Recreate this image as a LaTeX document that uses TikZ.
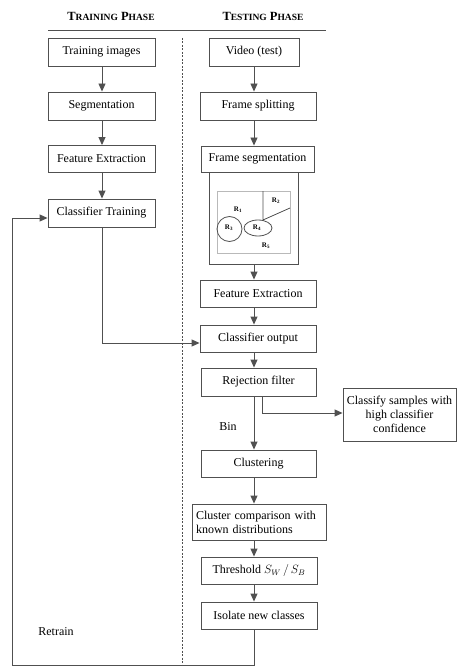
\documentclass[tikz,border=0pt]{standalone}
\usepackage{fontspec}
\setmainfont{Liberation Serif}
\usetikzlibrary{arrows.meta,calc}
\definecolor{ln}{HTML}{505050}
\tikzset{
  box/.style={draw=ln, line width=0.9pt, inner sep=0pt, minimum height=28pt,
    font=\fontsize{12}{14}\selectfont, text=black},
  arr/.style={draw=ln, line width=0.9pt, -{Triangle[length=8pt,width=7pt]}},
  conn/.style={draw=ln, line width=0.9pt},
  lbl/.style={font=\fontsize{12}{14}\selectfont, inner sep=0pt},
  rlbl/.style={font=\fontsize{7}{8}\selectfont\bfseries, inner sep=0pt},
  hdr/.style={font=\fontsize{12.5}{14}\selectfont\bfseries, inner sep=0pt}
}
\newcommand{\smc}[1]{{\fontsize{9.5}{10}\selectfont #1}}
\begin{document}
\begin{tikzpicture}[x=1pt,y=-1pt]
\useasboundingbox (0,0) rectangle (474,671);
% columns
\coordinate (lcol) at (102,0);
\coordinate (rcol) at (254,0);
% headers
\node[hdr] (h1) at (111,16) {T\smc{RAINING} P\smc{HASE}};
\node[hdr] (h2) at (263,16) {T\smc{ESTING} P\smc{HASE}};
\coordinate (hl1) at (48,30);
\coordinate (hl2) at (326,30);
\draw[conn] (hl1) -- (hl2);
\coordinate (d1) at (182,38);
\coordinate (d2) at (182,666);
\draw[ln, line width=0.8pt, dash pattern=on 2pt off 1.5pt] (d1) -- (d2);
% training column
\node[box, minimum width=107pt] (ti) at (101.5,52) {Training images};
\node[box, minimum width=107pt] (seg) at (101.5,106) {Segmentation};
\node[box, minimum width=107pt, minimum height=27pt] (fel) at (101.5,159) {Feature Extraction};
\node[box, minimum width=107pt] (ct) at (101.5,213) {Classifier Training};
% testing column
\node[box, minimum width=90pt] (vid) at (254,52) {Video (test)};
\node[box, minimum width=116pt] (fs) at (258,106) {Frame splitting};
\node[box, minimum width=113pt, minimum height=26pt] (fseg) at (257.5,159) {Frame segmentation};
\node[draw=ln, line width=0.9pt, minimum width=89pt, minimum height=92pt, inner sep=0pt] (reg) at (253.5,218) {};
\node[box, minimum width=116pt, minimum height=27pt] (fer) at (258,293.5) {Feature Extraction};
\node[box, minimum width=116pt, minimum height=27pt] (co) at (258,338.5) {Classifier output};
\node[box, minimum width=115pt] (rf) at (258.5,382) {Rejection filter};
\node[box, minimum width=113pt, minimum height=53pt, align=center] (cl) at (399.5,414.5) {Classify samples with\\high classifier\\confidence};
\node[box, minimum width=115pt, minimum height=27pt] (clu) at (258.5,463.5) {Clustering};
\node[box, minimum width=134pt, minimum height=36pt, text width=126pt, align=left] (cc) at (259,522) {Cluster comparison with\\known distributions};
\node[box, minimum width=116pt, minimum height=27pt] (th) at (259,570.5) {Threshold $S_W\,/\,S_B$};
\node[box, minimum width=116pt, minimum height=27pt] (iso) at (259,615.5) {Isolate new classes};
% region sketch
\draw[gray!55, line width=0.8pt] (217,191) rectangle (290,253);
\coordinate (rl1) at (263,191);
\coordinate (rl2) at (263,220);
\coordinate (rl3) at (290,208);
\draw[ln, line width=0.8pt] (rl1) -- (rl2) -- (rl3);
\draw[ln, line width=0.8pt] (229.5,229) circle (12.5pt);
\draw[ln, line width=0.8pt] (258,228) ellipse (14pt and 8pt);
\node[rlbl] (r1) at (238,210) {R\textsubscript{1}};
\node[rlbl] (r2) at (276,201) {R\textsubscript{2}};
\node[rlbl] (r3) at (229,228) {R\textsubscript{3}};
\node[rlbl] (r4) at (257,228) {R\textsubscript{4}};
\node[rlbl] (r5) at (266,246) {R\textsubscript{5}};
% left arrows
\draw[arr] (lcol |- ti.south) -- (lcol |- seg.north);
\draw[arr] (lcol |- seg.south) -- (lcol |- fel.north);
\draw[arr] (lcol |- fel.south) -- (lcol |- ct.north);
\draw[arr] (lcol |- ct.south) |- ([yshift=-4.5pt]co.west);
% right arrows
\draw[arr] (rcol |- vid.south) -- (rcol |- fs.north);
\draw[arr] (rcol |- fs.south) -- (rcol |- fseg.north);
\draw[arr] (rcol |- reg.south) -- (rcol |- fer.north);
\draw[arr] (rcol |- fer.south) -- (rcol |- co.north);
\draw[arr] (rcol |- co.south) -- (rcol |- rf.north);
\draw[arr] (rcol |- rf.south) -- (rcol |- clu.north);
\coordinate (bcol) at (262,0);
\draw[arr] (bcol |- rf.south) |- ([yshift=1.5pt]cl.west);
\draw[arr] (rcol |- clu.south) -- (rcol |- cc.north);
\draw[arr] (rcol |- cc.south) -- (rcol |- th.north);
\draw[arr] (rcol |- th.south) -- (rcol |- iso.north);
% retrain loop
\coordinate (loopR) at (254,665);
\coordinate (loopL) at (12,665);
\draw[arr] (rcol |- iso.south) -- (loopR) -- (loopL) |- ([yshift=-5pt]ct.west);
% labels
\node[lbl] (bin) at (228,427) {Bin};
\node[lbl] (rt) at (56,632) {Retrain};
\end{tikzpicture}
\end{document}
